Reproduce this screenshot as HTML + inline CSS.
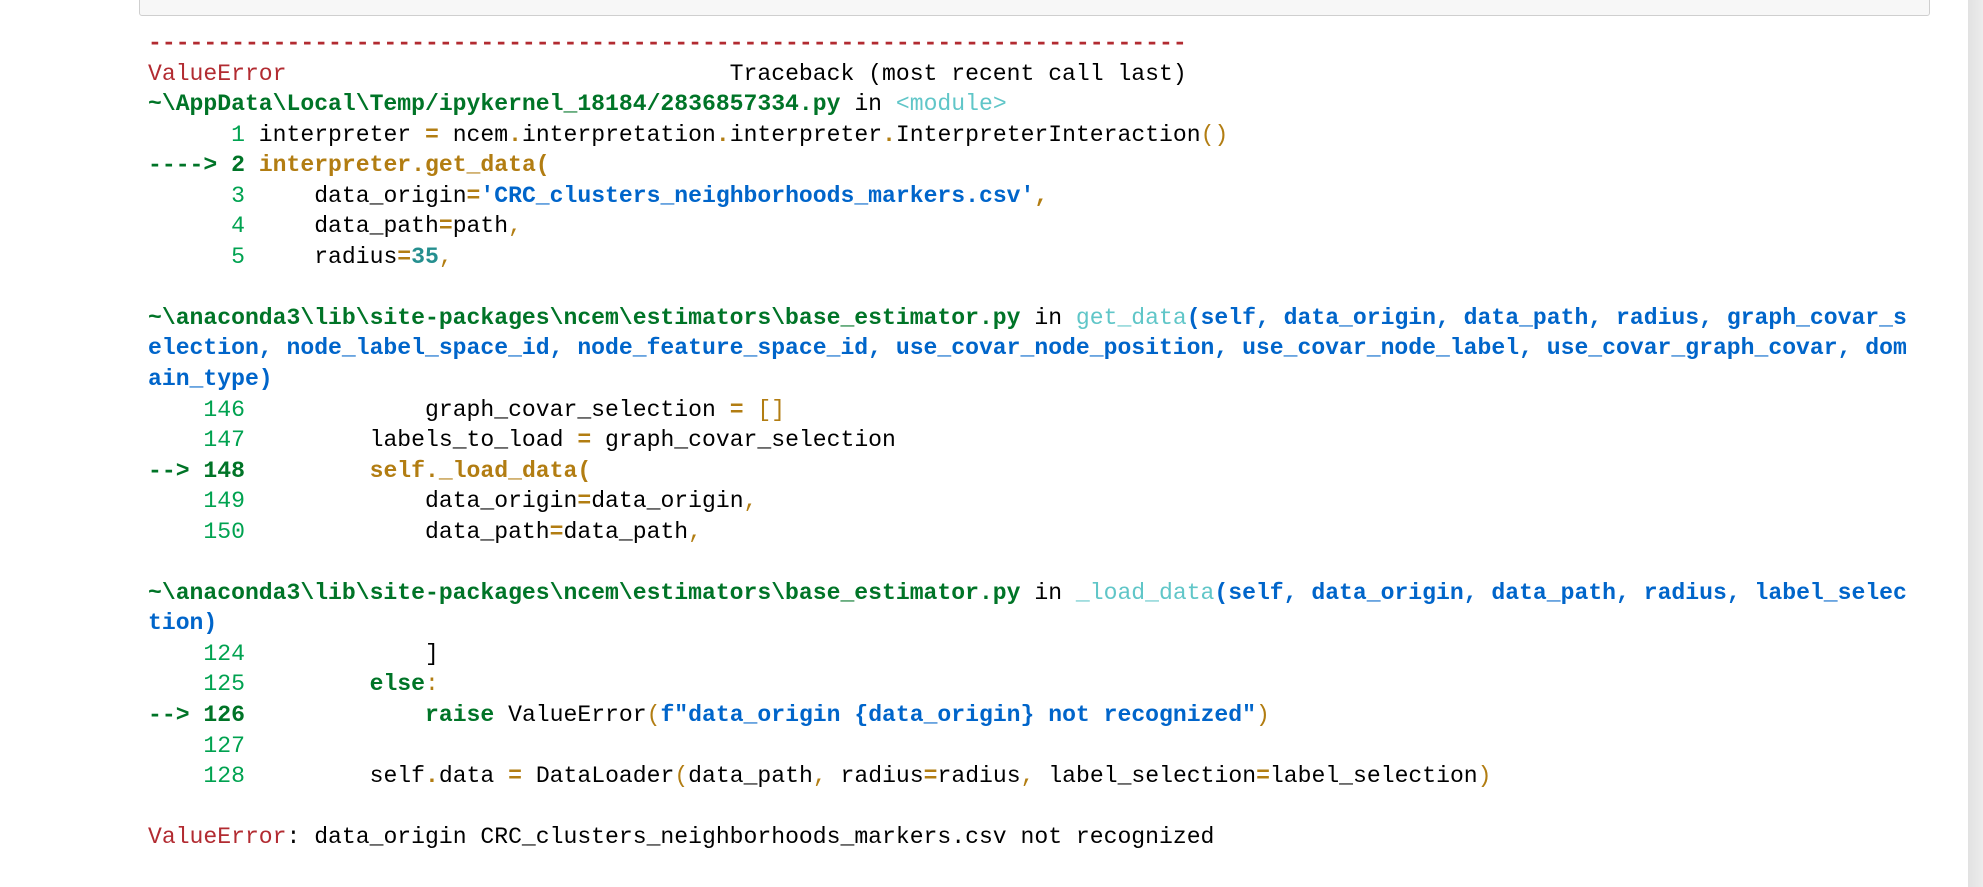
<!DOCTYPE html>
<html><head><meta charset="utf-8"><style>
html,body{margin:0;padding:0;background:#fff;width:1983px;height:887px;overflow:hidden;position:relative}
.box{position:absolute;left:139px;top:-6px;width:1789px;height:20px;background:#f7f7f7;border:1px solid #cfcfcf;border-radius:3px}
.sb{position:absolute;left:1968px;top:0;width:15px;height:887px;background:linear-gradient(to right,#e2e2e2,#ececec)}
pre{position:absolute;left:148px;top:28px;margin:0;font-family:"Liberation Mono",monospace;font-size:23.08px;line-height:30.55px;color:#000;white-space:pre}
.r{color:#b22b31}.rb{color:#b22b31;font-weight:bold}.g{color:#007427;font-weight:bold}.n{color:#00a250}.c{color:#60c6c8}.o{color:#b27d12}.ob{color:#b27d12;font-weight:bold}.b{color:#0065ca;font-weight:bold}.t{color:#258f8f;font-weight:bold}
</style></head><body>
<div class="box"></div><div class="sb"></div>
<pre><span class="rb">---------------------------------------------------------------------------</span>
<span class="r">ValueError</span>                                Traceback (most recent call last)
<span class="g">~\AppData\Local\Temp/ipykernel_18184/2836857334.py</span> in <span class="c">&lt;module&gt;</span>
<span class="n">      1</span> interpreter <span class="ob">=</span> ncem<span class="ob">.</span>interpretation<span class="ob">.</span>interpreter<span class="ob">.</span>InterpreterInteraction<span class="o">()</span>
<span class="g">----&gt; 2</span> <span class="ob">interpreter.get_data(</span>
<span class="n">      3</span>     data_origin<span class="ob">=</span><span class="b">'CRC_clusters_neighborhoods_markers.csv'</span><span class="ob">,</span>
<span class="n">      4</span>     data_path<span class="ob">=</span>path<span class="o">,</span>
<span class="n">      5</span>     radius<span class="ob">=</span><span class="t">35</span><span class="o">,</span>

<span class="g">~\anaconda3\lib\site-packages\ncem\estimators\base_estimator.py</span> in <span class="c">get_data</span><span class="b">(self, data_origin, data_path, radius, graph_covar_s</span>
<span class="b">election, node_label_space_id, node_feature_space_id, use_covar_node_position, use_covar_node_label, use_covar_graph_covar, dom</span>
<span class="b">ain_type)</span>
<span class="n">    146</span>             graph_covar_selection <span class="ob">=</span> <span class="o">[]</span>
<span class="n">    147</span>         labels_to_load <span class="ob">=</span> graph_covar_selection
<span class="g">--&gt; 148</span>         <span class="ob">self._load_data(</span>
<span class="n">    149</span>             data_origin<span class="ob">=</span>data_origin<span class="o">,</span>
<span class="n">    150</span>             data_path<span class="ob">=</span>data_path<span class="o">,</span>

<span class="g">~\anaconda3\lib\site-packages\ncem\estimators\base_estimator.py</span> in <span class="c">_load_data</span><span class="b">(self, data_origin, data_path, radius, label_selec</span>
<span class="b">tion)</span>
<span class="n">    124</span>             ]
<span class="n">    125</span>         <span class="g">else</span><span class="o">:</span>
<span class="g">--&gt; 126</span>             <span class="g">raise</span> ValueError<span class="o">(</span><span class="b">f"data_origin {data_origin} not recognized"</span><span class="o">)</span>
<span class="n">    127</span>
<span class="n">    128</span>         self<span class="ob">.</span>data <span class="ob">=</span> DataLoader<span class="o">(</span>data_path<span class="o">,</span> radius<span class="ob">=</span>radius<span class="o">,</span> label_selection<span class="ob">=</span>label_selection<span class="o">)</span>

<span class="r">ValueError</span>: data_origin CRC_clusters_neighborhoods_markers.csv not recognized</pre>
</body></html>
